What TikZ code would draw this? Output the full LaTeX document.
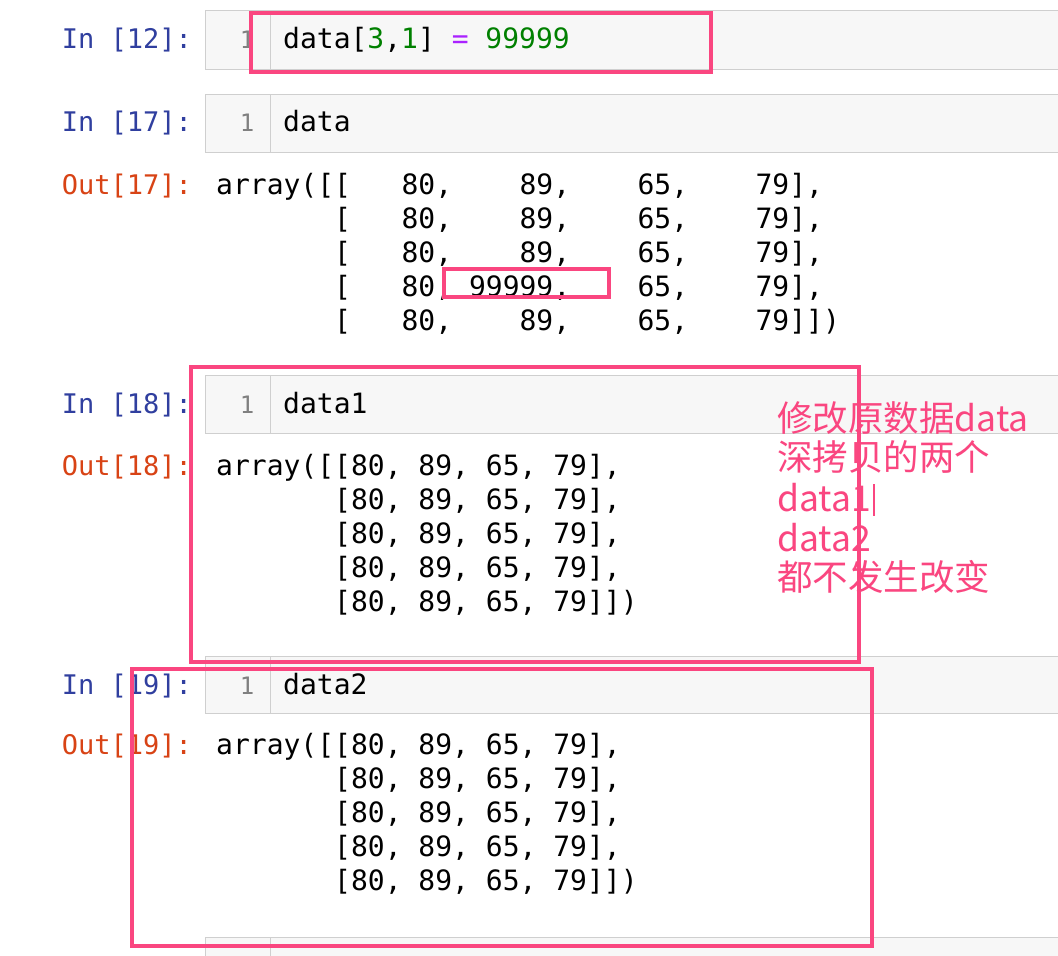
\documentclass[tikz,border=0pt]{standalone}
\usepackage{fontspec}
\setmonofont{DejaVu Sans Mono}
\newfontfamily\cjk{Noto Sans CJK SC}
\definecolor{inblue}{HTML}{303F9F}
\definecolor{outred}{HTML}{D84315}
\definecolor{hpink}{HTML}{FA4680}
\definecolor{cgreen}{HTML}{008000}
\definecolor{cpurple}{HTML}{AA22FF}
\definecolor{cellbd}{HTML}{CFCFCF}
\definecolor{cellbg}{HTML}{F7F7F7}
\tikzset{
 mono/.style={anchor=base west,inner sep=0,font=\ttfamily\fontsize{28}{28}\selectfont},
 lbl/.style={mono,anchor=base east,font=\ttfamily\fontsize{27}{27}\selectfont},
 lno/.style={anchor=base,inner sep=0,text=gray,font=\ttfamily\fontsize{24}{24}\selectfont},
 cellbox/.style={draw=cellbd,fill=cellbg,line width=1pt},
 hbox/.style={draw=hpink,line width=4pt},
 note/.style={anchor=base west,inner sep=0,text=hpink,font=\cjk\fontsize{35.5}{35.5}\selectfont}
}
\begin{document}
\begin{tikzpicture}[x=1pt,y=-1pt]
\useasboundingbox[fill=white] (0,0) rectangle (1058,956);
% cells
\foreach \a/\b in {10/69,94/152,375/433,656/713,937/990}{
 \draw[cellbox] (205,\a) rectangle (1070,\b);
 \draw[cellbd] (270,\a) -- (270,\b);
}
% In[12]
\node[lbl,text=inblue] (l12) at (192,48) {In~[12]:};
\node[lno] (n12) at (247,48) {1};
\node[mono] (c12) at (283,48) {data[\textcolor{cgreen}{3},\textcolor{cgreen}{1}] \textcolor{cpurple}{=} \textcolor{cgreen}{99999}};
\draw[hbox] (251,13) rectangle (711,72);
% In[17]
\node[lbl,text=inblue] (l17) at (192,131) {In~[17]:};
\node[lno] (n17) at (247,131) {1};
\node[mono] (c17) at (283,131) {data};
\node[lbl,text=outred] (o17) at (192,194) {Out[17]:};
\node[mono] (a1) at (216,194) {array([[~~~80,~~~~89,~~~~65,~~~~79],};
\node[mono] (a2) at (216,228) {~~~~~~~[~~~80,~~~~89,~~~~65,~~~~79],};
\node[mono] (a3) at (216,262) {~~~~~~~[~~~80,~~~~89,~~~~65,~~~~79],};
\node[mono] (a4) at (216,296) {~~~~~~~[~~~80,~99999,~~~~65,~~~~79],};
\node[mono] (a5) at (216,330) {~~~~~~~[~~~80,~~~~89,~~~~65,~~~~79]])};
\draw[hbox] (444,269) rectangle (609,297);
% In[18]
\node[lbl,text=inblue] (l18) at (192,413) {In~[18]:};
\node[lno] (n18) at (247,413) {1};
\node[mono] (c18) at (283,413) {data1};
\node[lbl,text=outred] (o18) at (192,475) {Out[18]:};
\node[mono] (b1) at (216,475) {array([[80,~89,~65,~79],};
\foreach \y/\n in {509/b2,543/b3,577/b4}{\node[mono] (\n) at (216,\y) {~~~~~~~[80,~89,~65,~79],};}
\node[mono] (b5) at (216,611) {~~~~~~~[80,~89,~65,~79]])};
% In[19]
\node[lbl,text=inblue] (l19) at (192,694) {In~[19]:};
\node[lno] (n19) at (247,694) {1};
\node[mono] (c19) at (283,694) {data2};
\node[lbl,text=outred] (o19) at (192,754) {Out[19]:};
\node[mono] (d1) at (216,754) {array([[80,~89,~65,~79],};
\foreach \y/\n in {788/d2,822/d3,856/d4}{\node[mono] (\n) at (216,\y) {~~~~~~~[80,~89,~65,~79],};}
\node[mono] (d5) at (216,890) {~~~~~~~[80,~89,~65,~79]])};
% highlight boxes
\draw[hbox] (191,367) rectangle (859,662);
\draw[hbox] (132,669) rectangle (872,946);
% note
\node[note] (t1) at (777,431) {修改原数据data};
\node[note] (t2) at (777,470) {深拷贝的两个};
\node[note] (t3) at (777,511) {data1};
\draw[hpink,line width=1.5pt] ([xshift=3pt]t3.east|-0,484) -- ([xshift=3pt]t3.east|-0,516);
\node[note] (t4) at (777,551) {data2};
\node[note] (t5) at (777,590) {都不发生改变};
\end{tikzpicture}
\end{document}
